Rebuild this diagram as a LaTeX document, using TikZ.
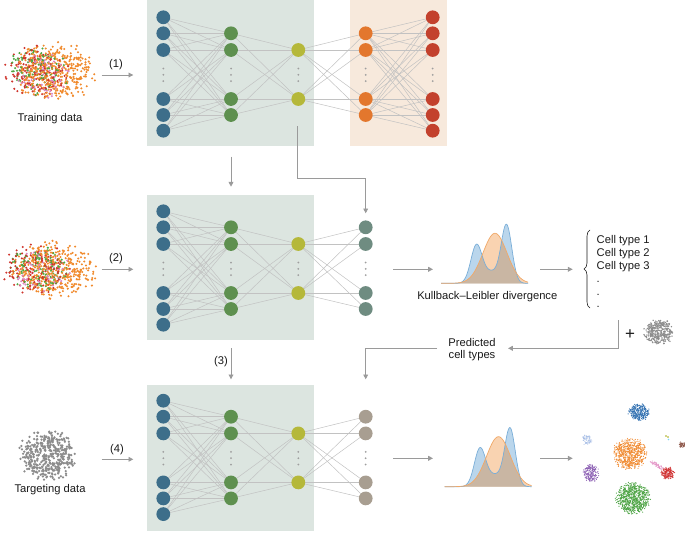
\documentclass[tikz,border=0pt]{standalone}
\usepackage{fontspec}
\setmainfont{Liberation Sans}
\usetikzlibrary{arrows.meta,decorations.pathreplacing}
\definecolor{boxg}{HTML}{DCE5E0}
\definecolor{boxo}{HTML}{F7E9DC}
\definecolor{cA}{HTML}{3D6E8A}
\definecolor{cB}{HTML}{5E904F}
\definecolor{cC}{HTML}{B5B83A}
\definecolor{cD}{HTML}{E3772D}
\definecolor{cE}{HTML}{C3412D}
\definecolor{cF}{HTML}{6F8C81}
\definecolor{cG}{HTML}{A89E91}
\definecolor{edgec}{HTML}{C2C2C2}
\definecolor{dotc}{HTML}{9E9E9E}
\definecolor{arrc}{HTML}{9A9A9A}
\definecolor{txt}{HTML}{1A1A1A}
\definecolor{scOr}{HTML}{F08A2C}
\definecolor{scRd}{HTML}{CF352D}
\definecolor{scGr}{HTML}{4DA641}
\definecolor{scPk}{HTML}{DA86C2}
\definecolor{scGy}{HTML}{8C8C8C}
\definecolor{klB}{HTML}{BAD6EC}
\definecolor{klBl}{HTML}{7AAED8}
\definecolor{klO}{HTML}{F9D3B1}
\definecolor{klOl}{HTML}{F0A868}
\definecolor{klT}{HTML}{C9B6A3}
\definecolor{clBl}{HTML}{2F6FB0}
\definecolor{clLb}{HTML}{A9BFE6}
\definecolor{clOr}{HTML}{F08A30}
\definecolor{clPu}{HTML}{8A5DB2}
\definecolor{clGr}{HTML}{4CA343}
\definecolor{clRd}{HTML}{D03333}
\definecolor{clPk}{HTML}{E394C6}
\definecolor{clBr}{HTML}{8B5446}
\pgfdeclarelayer{boxes}
\pgfdeclarelayer{edges}
\pgfsetlayers{boxes,edges,main}
\tikzset{
  nn/.style={circle, draw=none, minimum size=13.8pt, inner sep=0pt},
  edge/.style={draw=edgec, line width=0.5pt},
  conn/.style={draw=arrc, line width=0.9pt, -{Triangle[length=4.8pt,width=4.8pt]}},
  lbl/.style={font=\fontsize{11.2}{12.8}\selectfont, text=txt, inner sep=0pt},
  panelbox/.style={inner sep=0pt, anchor=north west, draw=none},
  bracestyle/.style={line width=0.6pt, draw=txt, decorate, decoration={brace, amplitude=6pt}},
  declare function={
    bl(\x)=38*exp(-(\x-476.5)*(\x-476.5)/64)+58*exp(-(\x-506.5)*(\x-506.5)/56.25)+11*exp(-(\x-491.5)*(\x-491.5)/100);
    og(\x)=50*exp(-(\x-495)*(\x-495)/289);
  }
}
\newcommand\netpanel[3]{%
  \foreach \k/\yy in {1/17.3,2/33.3,3/50,4/99,5/115,6/130.7}
    \node[nn, fill=cA] (#1a\k) at (163.3,#2+\yy) {};
  \foreach \k/\yy in {1/33.3,2/50,3/99,4/115}
    \node[nn, fill=cB] (#1b\k) at (231,#2+\yy) {};
  \foreach \k/\yy in {1/50,2/99}
    \node[nn, fill=cC] (#1c\k) at (298.3,#2+\yy) {};
  \foreach \k/\yy in {1/33.3,2/50,3/99,4/115}
    \node[nn, fill=#3] (#1d\k) at (365.7,#2+\yy) {};
  \begin{pgfonlayer}{edges}
    \foreach \i in {1,...,6} \foreach \j in {1,...,4} \draw[edge] (#1a\i.center) -- (#1b\j.center);
    \foreach \i in {1,...,4} \foreach \j in {1,2} \draw[edge] (#1b\i.center) -- (#1c\j.center);
    \foreach \i in {1,2} \foreach \j in {1,...,4} \draw[edge] (#1c\i.center) -- (#1d\j.center);
  \end{pgfonlayer}
  \foreach \xx in {163.3,231,298.3,365.7} \foreach \yy in {68.5,74.8,81.1}
    \fill[dotc] (\xx,#2+\yy) circle[radius=1pt];
}
\newcommand\blob[7]{%
  \foreach \ii in {1,...,#5}{%
    \pgfmathsetmacro\bang{360*rnd}%
    \pgfmathsetmacro\brad{sqrt(rnd)*(0.78+0.36*rnd)}%
    \fill[#6] ({#1+#3*\brad*cos(\bang)},{#2+#4*\brad*sin(\bang)}) circle[radius=#7];
  }}
\newcommand\mixblob[2]{%
  \foreach \ii in {1,...,720}{%
    \pgfmathsetmacro\bsel{rnd}%
    \pgfmathsetmacro\bang{360*rnd}%
    \pgfmathsetmacro\brad{sqrt(rnd)*(0.72+0.45*rnd)}%
    \ifdim\bsel pt<0.52pt
      \fill[scOr] ({#1+9+39*\brad*cos(\bang)},{#2+27*\brad*sin(\bang)}) circle[radius=1.15pt];
    \else\ifdim\bsel pt<0.72pt
      \fill[scRd] ({#1-10+31*\brad*cos(\bang)},{#2+24*\brad*sin(\bang)}) circle[radius=1.15pt];
    \else\ifdim\bsel pt<0.88pt
      \fill[scGr] ({#1-8+30*\brad*cos(\bang)},{#2-2+22*\brad*sin(\bang)}) circle[radius=1.15pt];
    \else
      \fill[scPk] ({#1-2+28*\brad*cos(\bang)},{#2+2+22*\brad*sin(\bang)}) circle[radius=1.15pt];
    \fi\fi\fi
  }}
\newcommand\klplot{%
  \fill[klB] (441,283.3) -- plot[domain=441:528, samples=120] (\x,{283.3-bl(\x)}) -- (528,283.3) -- cycle;
  \fill[klO] (441,283.3) -- plot[domain=441:528, samples=120] (\x,{283.3-og(\x)}) -- (528,283.3) -- cycle;
  \fill[klT] (441,283.3) -- plot[domain=441:528, samples=120] (\x,{283.3-min(bl(\x),og(\x))}) -- (528,283.3) -- cycle;
  \draw[klBl, line width=0.7pt] plot[domain=441:528, samples=120] (\x,{283.3-bl(\x)});
  \draw[klOl, line width=0.7pt] plot[domain=441:528, samples=120] (\x,{283.3-og(\x)});
}
\begin{document}
\begin{tikzpicture}[x=1pt, y=-1pt]
\useasboundingbox (0,0) rectangle (685,533);
\pgfmathsetseed{7}
% panel boxes
\begin{pgfonlayer}{boxes}
  \node[panelbox, fill=boxg, minimum width=167pt, minimum height=146pt] (box1) at (147,0) {};
  \node[panelbox, fill=boxo, minimum width=97pt, minimum height=146pt] (box1o) at (350,0) {};
  \node[panelbox, fill=boxg, minimum width=167pt, minimum height=145pt] (box2) at (147,194.3) {};
  \node[panelbox, fill=boxg, minimum width=167pt, minimum height=146pt] (box3) at (147,385) {};
\end{pgfonlayer}
% networks
\netpanel{p}{0}{cD}
\foreach \k/\yy in {1/17.3,2/33.3,3/50,4/99,5/115,6/130.7}
  \node[nn, fill=cE] (pe\k) at (432.7,\yy) {};
\begin{pgfonlayer}{edges}
  \foreach \i in {1,...,4} \foreach \j in {1,...,6} \draw[edge] (pd\i.center) -- (pe\j.center);
\end{pgfonlayer}
\foreach \yy in {68.5,74.8,81.1} \fill[dotc] (432.7,\yy) circle[radius=1pt];
\netpanel{q}{194}{cF}
\netpanel{r}{383.4}{cG}
% scatter data
\mixblob{46}{72}
\mixblob{46}{270}
\blob{48}{455}{27}{24}{420}{scGy}{1.25pt}
\blob{659}{332}{14}{12}{320}{scGy}{0.8pt}
\blob{639}{412}{10}{8}{260}{clBl}{0.6pt}
\blob{587}{440}{5}{5}{70}{clLb}{0.55pt}
\blob{630}{454}{16}{15}{650}{clOr}{0.6pt}
\blob{591}{473}{8}{9}{170}{clPu}{0.6pt}
\blob{633}{498}{16}{15}{750}{clGr}{0.6pt}
\blob{668}{473}{6.5}{6}{170}{clRd}{0.6pt}
\blob{682}{445}{3}{3}{40}{clBr}{0.6pt}
\foreach \tt in {0,0.1,...,1}
  \blob{652+11*\tt}{462+7*\tt}{2}{1.5}{6}{clPk}{0.55pt}
\fill[cC!60!white] (666,436) circle[radius=0.8pt] (668,437) circle[radius=0.8pt];
\fill[cyan!50] (668.5,439.5) circle[radius=0.8pt];
% KL plots
\klplot
\begin{scope}[shift={(3.5,203.4)}]
  \klplot
\end{scope}
% labels
\node[lbl] (trn) at (50,119) {Training data};
\node[lbl] (tgt) at (50,490) {Targeting data};
\node[lbl] (l1) at (116,65) {(1)};
\node[lbl] (l2) at (116,259) {(2)};
\node[lbl] (l3) at (221,362) {(3)};
\node[lbl] (l4) at (117,450) {(4)};
\node[lbl] (kl) at (487.3,297) {Kullback–Leibler divergence};
\node[lbl, align=left, anchor=north west] (ct) at (596.5,235.5) {Cell type 1\\Cell type 2\\Cell type 3\\.\\.\\.};
\node[lbl, align=center] (pred) at (472,349.5) {Predicted\\cell types};
\node[font=\fontsize{17}{17}\selectfont, text=txt, inner sep=0pt] (plus) at (630,334.5) {+};
\coordinate (brb) at (590,308); \coordinate (brt) at (590,230);
\draw[bracestyle] (brb) -- (brt);
% connectors
\coordinate (a1s) at (101.7,75); \coordinate (a1e) at (133.3,75);
\coordinate (a2s) at (101.7,269.3); \coordinate (a2e) at (133.3,269.3);
\coordinate (a4s) at (101.7,459.3); \coordinate (a4e) at (133.3,459.3);
\coordinate (d1s) at (231,156.7); \coordinate (d1e) at (231,186.7);
\coordinate (d2s) at (297.3,126); \coordinate (d2k) at (297.3,178); \coordinate (d2m) at (365.7,178); \coordinate (d2e) at (365.7,213.3);
\coordinate (k1s) at (393,269.3); \coordinate (k1e) at (433,269.3);
\coordinate (k2s) at (540,269.3); \coordinate (k2e) at (572.7,269.3);
\coordinate (k3s) at (393,458.3); \coordinate (k3e) at (433,458.3);
\coordinate (k4s) at (540,458.3); \coordinate (k4e) at (572.7,458.3);
\coordinate (f1s) at (618,320); \coordinate (f1k) at (618,348.3); \coordinate (f1e) at (508,348.3);
\coordinate (f2s) at (437,348.3); \coordinate (f2k) at (365.7,348.3); \coordinate (f2e) at (365.7,379.3);
\coordinate (d3s) at (231,348.3); \coordinate (d3e) at (231,379.3);
\draw[conn] (a1s) -- (a1e);
\draw[conn] (a2s) -- (a2e);
\draw[conn] (a4s) -- (a4e);
\draw[conn] (d1s) -- (d1e);
\draw[conn] (d2s) -- (d2k) -- (d2m) -- (d2e);
\draw[conn] (k1s) -- (k1e);
\draw[conn] (k2s) -- (k2e);
\draw[conn] (k3s) -- (k3e);
\draw[conn] (k4s) -- (k4e);
\draw[conn] (f1s) -- (f1k) -- (f1e);
\draw[conn] (f2s) -- (f2k) -- (f2e);
\draw[conn] (d3s) -- (d3e);
\end{tikzpicture}
\end{document}
